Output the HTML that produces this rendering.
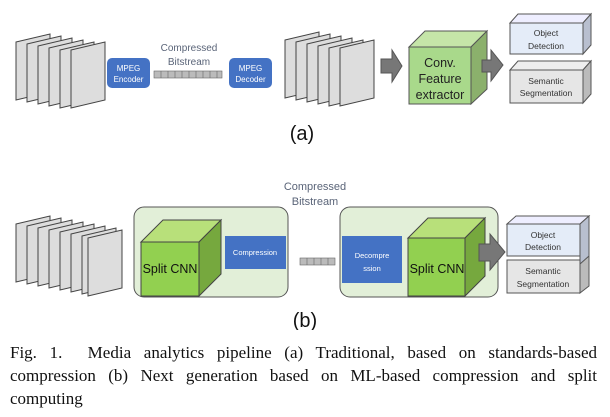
<!DOCTYPE html>
<html><head><meta charset="utf-8"><style>
body{margin:0;background:#fff;width:610px;height:417px;overflow:hidden}
.cap{position:absolute;left:10px;width:587px;font-family:"Liberation Serif",serif;font-size:17px;line-height:23px;text-align:justify;text-align-last:justify;color:#111}
</style></head><body>
<svg width="610" height="330" style="position:absolute;left:0;top:0" font-family="Liberation Sans, sans-serif">
<defs>
<g id="fr"><polygon points="0,8 34,0 34,58 0,66" fill="#ddd" stroke="#444" stroke-width="1"/></g>
</defs>
<g transform="translate(16,34)"><use href="#fr"/><use href="#fr" x="11" y="2"/><use href="#fr" x="22" y="4"/><use href="#fr" x="33" y="6"/><use href="#fr" x="44" y="8"/><use href="#fr" x="55" y="8"/></g>
<rect x="107" y="58" width="43" height="30" rx="5" fill="#4472c4"/>
<text x="128.5" y="71" font-size="8" fill="#fff" text-anchor="middle">MPEG</text>
<text x="128.5" y="82" font-size="8" fill="#fff" text-anchor="middle">Encoder</text>
<text x="189" y="51" font-size="10" fill="#5a6478" text-anchor="middle">Compressed</text>
<text x="189" y="65" font-size="10" fill="#5a6478" text-anchor="middle">Bitstream</text>
<rect x="154" y="71" width="68" height="7" fill="#bbb" stroke="#666" stroke-width="0.6"/>
<path d="M161,71v7M168,71v7M175,71v7M182,71v7M189,71v7M196,71v7M203,71v7M210,71v7M217,71v7" stroke="#666" stroke-width="0.6"/>
<rect x="229" y="58" width="43" height="30" rx="5" fill="#4472c4"/>
<text x="250.5" y="71" font-size="8" fill="#fff" text-anchor="middle">MPEG</text>
<text x="250.5" y="82" font-size="8" fill="#fff" text-anchor="middle">Decoder</text>
<g transform="translate(285,32)"><use href="#fr"/><use href="#fr" x="11" y="2"/><use href="#fr" x="22" y="4"/><use href="#fr" x="33" y="6"/><use href="#fr" x="44" y="8"/><use href="#fr" x="55" y="8"/></g>
<polygon points="381,59 392,59 392,50 402,66 392,82 392,73 381,73" fill="#777" stroke="#555"/>
<polygon points="409,47 425,31 487,31 471,47" fill="#c5e5a8" stroke="#555"/>
<polygon points="471,47 487,31 487,89 471,104" fill="#8bb06c" stroke="#555"/>
<rect x="409" y="47" width="62" height="57" fill="#a9d98b" stroke="#555"/>
<text x="440" y="67" font-size="12.5" fill="#222" text-anchor="middle">Conv.</text>
<text x="440" y="83" font-size="12.5" fill="#222" text-anchor="middle">Feature</text>
<text x="440" y="99" font-size="12.5" fill="#222" text-anchor="middle">extractor</text>
<polygon points="482,60 491,60 491,50 503,65 491,81 491,72 482,72" fill="#777" stroke="#555"/>
<polygon points="510,23 518,14 591,14 583,23" fill="#eef" stroke="#555"/>
<polygon points="583,23 591,14 591,45 583,54" fill="#b8bfcf" stroke="#555"/>
<rect x="510" y="23" width="73" height="31" fill="#e4ecf8" stroke="#555"/>
<text x="546" y="36" font-size="8.5" fill="#333" text-anchor="middle">Object</text>
<text x="546" y="49" font-size="8.5" fill="#333" text-anchor="middle">Detection</text>
<polygon points="510,70 518,61 591,61 583,70" fill="#eee" stroke="#555"/>
<polygon points="583,70 591,61 591,94 583,103" fill="#bbb" stroke="#555"/>
<rect x="510" y="70" width="73" height="33" fill="#e6e6e6" stroke="#555"/>
<text x="546" y="84" font-size="8.5" fill="#333" text-anchor="middle">Semantic</text>
<text x="546" y="96" font-size="8.5" fill="#333" text-anchor="middle">Segmentation</text>
<text x="302" y="140" font-size="20" fill="#111" text-anchor="middle">(a)</text>

<g transform="translate(16,216)"><use href="#fr"/><use href="#fr" x="11" y="2"/><use href="#fr" x="22" y="4"/><use href="#fr" x="33" y="6"/><use href="#fr" x="44" y="8"/><use href="#fr" x="55" y="10"/><use href="#fr" x="66" y="12"/><use href="#fr" x="72" y="14"/></g>
<text x="315" y="190" font-size="11" fill="#5a6478" text-anchor="middle">Compressed</text>
<text x="315" y="205" font-size="11" fill="#5a6478" text-anchor="middle">Bitstream</text>
<rect x="134" y="207" width="154" height="90" rx="10" fill="#e2efd8" stroke="#555"/>
<rect x="340" y="207" width="158" height="90" rx="10" fill="#e2efd8" stroke="#555"/>
<polygon points="141,242 163,220 221,220 199,242" fill="#b8e07a" stroke="#444"/>
<polygon points="199,242 221,220 221,274 199,296" fill="#76a83e" stroke="#444"/>
<rect x="141" y="242" width="58" height="54" fill="#92d050" stroke="#444"/>
<text x="170" y="273" font-size="12.5" fill="#111" text-anchor="middle">Split CNN</text>
<rect x="225" y="236" width="61" height="33" fill="#4472c4"/>
<text x="255" y="255" font-size="7.5" fill="#fff" text-anchor="middle">Compression</text>
<rect x="300" y="258" width="35" height="7" fill="#bbb" stroke="#666" stroke-width="0.6"/>
<path d="M307,258v7M314,258v7M321,258v7M328,258v7" stroke="#666" stroke-width="0.6"/>
<rect x="342" y="236" width="60" height="47" fill="#4472c4"/>
<text x="372" y="258" font-size="7.5" fill="#fff" text-anchor="middle">Decompre</text>
<text x="372" y="271" font-size="7.5" fill="#fff" text-anchor="middle">ssion</text>
<polygon points="408,238 428,218 485,218 465,238" fill="#b8e07a" stroke="#444"/>
<polygon points="465,238 485,218 485,276 465,296" fill="#76a83e" stroke="#444"/>
<rect x="408" y="238" width="57" height="58" fill="#92d050" stroke="#444"/>
<text x="437" y="273" font-size="12.5" fill="#111" text-anchor="middle">Split CNN</text>
<polygon points="479,244 490,244 490,234 505,252 490,270 490,261 479,261" fill="#777" stroke="#555"/>
<polygon points="507,224 516,216 589,216 580,224" fill="#eef" stroke="#555"/>
<polygon points="580,224 589,216 589,258 580,264" fill="#b8bfcf" stroke="#555"/>
<rect x="507" y="224" width="73" height="32" fill="#e4ecf8" stroke="#555"/>
<text x="543" y="238" font-size="8.5" fill="#333" text-anchor="middle">Object</text>
<text x="543" y="250" font-size="8.5" fill="#333" text-anchor="middle">Detection</text>
<polygon points="580,264 589,256 589,286 580,293" fill="#bbb" stroke="#555"/>
<rect x="507" y="260" width="73" height="33" fill="#e6e6e6" stroke="#555"/>
<text x="543" y="274" font-size="8.5" fill="#333" text-anchor="middle">Semantic</text>
<text x="543" y="287" font-size="8.5" fill="#333" text-anchor="middle">Segmentation</text>
<text x="305" y="327" font-size="20" fill="#111" text-anchor="middle">(b)</text>
</svg>
<div class="cap" style="top:341px">Fig. 1.&nbsp; Media analytics pipeline (a) Traditional, based on standards-based</div>
<div class="cap" style="top:364px">compression (b) Next generation based on ML-based compression and split</div>
<div class="cap" style="top:387px;text-align-last:left">computing</div>
</body></html>
